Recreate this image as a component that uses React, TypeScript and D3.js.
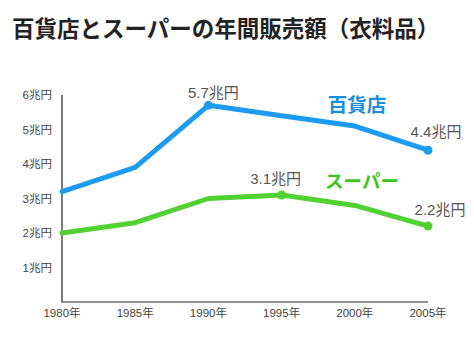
import React from "react";
import * as d3 from "d3";

const years = [1980, 1985, 1990, 1995, 2000, 2005];
const department = [3.2, 3.9, 5.7, 5.4, 5.1, 4.4];
const supermarket = [2.0, 2.3, 3.0, 3.1, 2.8, 2.2];
const yTicks = [1, 2, 3, 4, 5, 6];
const deptLabels = [{ i: 2, text: "5.7兆円" }, { i: 5, text: "4.4兆円" }];
const superLabels = [{ i: 3, text: "3.1兆円" }, { i: 5, text: "2.2兆円" }];

// label placement offsets (layout only)
const deptOffsets = [[5, -7], [8, -13]];
const superOffsets = [[-6, -11], [12, -11]];

const W = 474, H = 355;
const left = 62, right = 428, top = 95, bottom = 302;
const BLUE = "#1d9bf0";
const GREEN = "#52d132";
const FONT = "'Liberation Sans', 'Noto Sans CJK JP', sans-serif";

export default function App() {
  const x = d3.scaleLinear().domain([1980, 2005]).range([left, right]);
  const y = d3.scaleLinear().domain([0, 6]).range([bottom, top]);
  const line = d3.line<number>().x((_, i) => x(years[i])).y((d) => y(d));

  return (
    <svg width={W} height={H} style={{ position: "absolute", left: 0, top: 0, background: "#fff" }} fontFamily={FONT}>
      <rect width={W} height={H} fill="#fff" />
      <text x={12} y={37} fontSize={22.5} fontWeight={700} fill="#222" fontFamily="'Noto Sans CJK JP', sans-serif">百貨店とスーパーの年間販売額（衣料品）</text>
      {yTicks.map((t) => (
        <text key={t} x={52} y={y(t) + 4} fontSize={11.5} fill="#444" textAnchor="end">{t}兆円</text>
      ))}
      {years.map((yr) => (
        <text key={yr} x={x(yr)} y={317} fontSize={11.5} fill="#444" textAnchor="middle">{yr}年</text>
      ))}
      <path d={`M${left},${top}V${bottom}H${right}`} fill="none" stroke="#222" strokeWidth={1.2} />
      <path d={line(department) || ""} fill="none" stroke={BLUE} strokeWidth={5} strokeLinejoin="round" strokeLinecap="round" />
      <path d={line(supermarket) || ""} fill="none" stroke={GREEN} strokeWidth={5} strokeLinejoin="round" strokeLinecap="round" />
      {deptLabels.map((l, k) => (
        <g key={"d" + l.i}>
          <circle cx={x(years[l.i])} cy={y(department[l.i])} r={4.5} fill={BLUE} />
          <text x={x(years[l.i]) + deptOffsets[k][0]} y={y(department[l.i]) + deptOffsets[k][1]} fontSize={15} fill="#555" textAnchor="middle">{l.text}</text>
        </g>
      ))}
      {superLabels.map((l, k) => (
        <g key={"s" + l.i}>
          <circle cx={x(years[l.i])} cy={y(supermarket[l.i])} r={4.5} fill={GREEN} />
          <text x={x(years[l.i]) + superOffsets[k][0]} y={y(supermarket[l.i]) + superOffsets[k][1]} fontSize={15} fill="#555" textAnchor="middle">{l.text}</text>
        </g>
      ))}
      <text x={357} y={112} fontSize={19.5} fontWeight={700} fill="#1a90dc" textAnchor="middle" fontFamily="'Noto Sans CJK JP', sans-serif">百貨店</text>
      <text x={362} y={188} fontSize={18.5} fontWeight={700} fill="#3cc41c" textAnchor="middle" fontFamily="'Noto Sans CJK JP', sans-serif">スーパー</text>
    </svg>
  );
}
